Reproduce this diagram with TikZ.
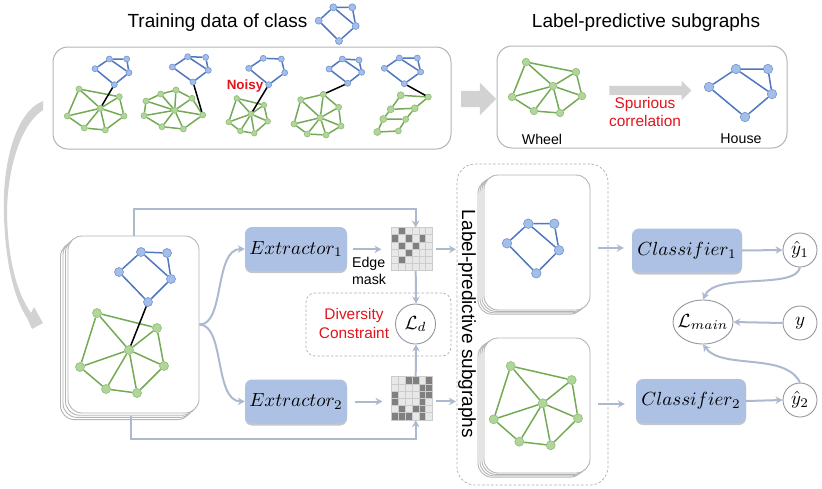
\documentclass[tikz,border=0pt]{standalone}
\usepackage{fontspec}
\setmainfont{Liberation Sans}
\usetikzlibrary{shapes.geometric, shapes.arrows, positioning, arrows.meta, shadows, calc}

\definecolor{linkblue}{HTML}{ADB9CF}
\definecolor{boxblue}{HTML}{ACC1E4}
\definecolor{graphblue}{HTML}{4F78C0}
\definecolor{dotblue}{HTML}{A4BEEA}
\definecolor{graphgreen}{HTML}{74AA55}
\definecolor{dotgreen}{HTML}{B0D69A}
\definecolor{cardgray}{HTML}{B4B4B4}
\definecolor{arrowgray}{HTML}{D2D2D2}
\definecolor{labelred}{HTML}{E2141C}

% house graph: prefix, dot size, five positions
\newcommand{\housegraph}[7]{
  \node[bluedot, minimum size=#2] (#1a) at (#3) {};
  \node[bluedot, minimum size=#2] (#1b) at (#4) {};
  \node[bluedot, minimum size=#2] (#1c) at (#5) {};
  \node[bluedot, minimum size=#2] (#1d) at (#6) {};
  \node[bluedot, minimum size=#2] (#1e) at (#7) {};
  \draw[blueedge] (#1a) -- (#1b) -- (#1c) -- (#1d) -- (#1e) -- (#1a);
}
% wheel graph: prefix, dot size, hub, rim positions, number of rim positions
\newcommand{\wheelgraph}[5]{
  \node[greendot, minimum size=#2] (#1h) at (#3) {};
  \foreach \p [count=\i] in {#4} {
    \node[greendot, minimum size=#2] (#1r\i) at \p {};
    \draw[greenedge] (#1h) -- (#1r\i);
  }
  \foreach \i [remember=\i as \j (initially #5)] in {1,...,#5} {
    \draw[greenedge] (#1r\j) -- (#1r\i);
  }
}
% stack of cards: name, centre x, centre y, width, height, shift x, shift y
\newcommand{\cardstack}[7]{
  \foreach \k in {3,2,1} {
    \node[card, minimum width=#4, minimum height=#5] (#1\k) at ({#2-\k*#6},{#3+\k*#7}) {};
  }
  \node[card, minimum width=#4, minimum height=#5] (#1) at (#2,#3) {};
}
% edge mask: name, centre x, centre y, dark cells as row/column
\newcommand{\maskgrid}[4]{
  \node[maskbox] (#1) at (#2,#3) {};
  \begin{scope}[shift={(#1.north west)}, x=6.85pt, y=-7.2pt]
    \foreach \r/\c in {#4} {
      \fill[maskdark] (\c,\r) rectangle ++(1,1);
    }
    \foreach \i in {0,...,6} {
      \draw[masklines] (\i,0) -- (\i,6);
      \draw[masklines] (0,\i) -- (6,\i);
    }
  \end{scope}
}

\begin{document}
\begin{tikzpicture}[
    x=1pt, y=-1pt,
    bluedot/.style={circle, inner sep=0pt, draw=graphblue!80, fill=dotblue, line width=0.6pt},
    greendot/.style={circle, inner sep=0pt, draw=graphgreen!80, fill=dotgreen, line width=0.6pt},
    blueedge/.style={draw=graphblue, line width=1.5pt},
    greenedge/.style={draw=graphgreen, line width=1.5pt},
    noisyedge/.style={draw=black, line width=1.5pt},
    frame/.style={rectangle, rounded corners=15pt, draw=cardgray, line width=1pt, fill=white},
    card/.style={rectangle, rounded corners=14pt, draw=cardgray, line width=0.9pt, fill=white},
    dashbox/.style={rectangle, draw=gray!65, line width=0.7pt, dash pattern=on 2.5pt off 2pt},
    modelbox/.style={rectangle, rounded corners=7pt, fill=boxblue, minimum height=44pt,
      drop shadow={shadow xshift=0pt, shadow yshift=-2pt, opacity=0.45, fill=gray}},
    mathlabel/.style={scale=1.9, inner sep=0pt},
    bubble/.style={circle, draw=gray!60!linkblue, fill=white, line width=0.9pt, inner sep=0pt},
    maskbox/.style={rectangle, minimum width=41.1pt, minimum height=43.2pt, inner sep=0pt, fill=black!9},
    maskdark/.style={fill=black!50},
    masklines/.style={draw=black!20, line width=0.6pt},
    link/.style={draw=linkblue, line width=2pt, -{Stealth[length=7pt, width=7.5pt]}},
    blockarrow/.style={single arrow, fill=arrowgray, inner sep=0pt},
    bigtext/.style={font=\fontsize{19}{22}\selectfont, inner sep=0pt},
    smalltext/.style={font=\fontsize{14.2}{17}\selectfont, inner sep=0pt},
    redtext/.style={font=\fontsize{15.4}{18.5}\selectfont, text=labelred, align=center, inner sep=0pt},
]
\useasboundingbox (0,0) rectangle (822,488);

% Titles
\node (traintitle) [bigtext] at (217.5,23) {Training data of class};
\node (subtitle) [bigtext] at (646,23) {Label-predictive subgraphs};
\housegraph{cls}{7pt}{318.7,20.7}{333.3,7.3}{352.3,7.3}{355.7,26}{339,41}
\draw[blueedge] (clsb) -- (clsd);

% Training data
\node (trainframe) [frame, minimum width=398pt, minimum height=102pt] at (252,98) {};
\housegraph{tha}{6pt}{95,68.7}{109.3,59}{126.7,59}{129,72.7}{114.3,84.7}
\draw[blueedge] (thab) -- (thad);
\wheelgraph{twa}{6pt}{100.3,108.3}{(79,89),(119.3,96.7),(124,116),(105.3,130),(84.3,128),(67.3,116)}{6}
\draw[noisyedge] (thae) -- (twah);
\housegraph{thb}{6pt}{172.3,67}{187.7,56.7}{205.7,57.3}{208.3,70.3}{193,82}
\draw[blueedge] (thbb) -- (thbd);
\wheelgraph{twb}{6pt}{174.7,110.3}{(146,101),(160.7,94),(176,90),(192,98.3),(202.7,115),(183.3,129),(162,126.7),(144,115.7)}{8}
\draw[noisyedge] (thbe) -- (twbr5);
\housegraph{thc}{6pt}{248.7,68.3}{263.3,58.3}{281.3,59}{284.7,72.7}{268.7,84.7}
\wheelgraph{twc}{5.5pt}{251,114}{(236.7,98.3),(264,105),(267.7,121.3),(254.3,133.3),(240.3,131),(228.7,122)}{6}
\draw[noisyedge] (thce) -- (twch);
\node (noisy) [inner sep=0pt, text=labelred, font=\fontsize{13.4}{15}\selectfont\bfseries] at (245,86) {Noisy};
\housegraph{thd}{6pt}{329,69}{342.3,59}{359,60}{361.7,72.3}{347.7,83.3}
\draw[blueedge] (thdb) -- (thdd);
\wheelgraph{twd}{6pt}{320.3,117.7}{(300.7,99.7),(323.3,94.3),(338.7,107.3),(341,126),(326,135),(307.3,134),(294,124)}{7}
\draw[noisyedge] (thde) -- (twdr2);
\housegraph{the}{6pt}{384.3,68.3}{399.3,58}{417.3,58}{420.7,72}{404.3,83.7}
\draw[blueedge] (theb) -- (thed);
% ladder motif
\foreach \n/\p/\s in {1/{400.7,95.3}/7pt, 2/{428.3,97}/6pt, 3/{414.7,108.3}/7pt, 4/{390.7,109.3}/7pt, 5/{405.7,119.3}/6pt, 6/{383.3,119}/7pt, 7/{398.3,131}/6pt, 8/{377.3,132}/7pt} {
  \node[greendot, minimum size=\s] (lad\n) at (\p) {};
}
\draw[greenedge] (lad1) -- (lad2) -- (lad3) -- (lad4) -- (lad1);
\draw[greenedge] (lad3) -- (lad5) -- (lad6) -- (lad4);
\draw[greenedge] (lad5) -- (lad7) -- (lad8) -- (lad6);
\draw[noisyedge] (thee) -- (lad2);

% Label-predictive subgraphs at the top
\node (subframe) [frame, minimum width=290pt, minimum height=102pt] at (642,97) {};
\wheelgraph{wheel}{7.5pt}{553,86}{(526,62),(576,72),(582,96),(560,113),(534,111),(512,97)}{6}
\housegraph{house}{9.5pt}{709,87}{736,69}{768,69}{772,94}{745,117}
\draw[blueedge] (houseb) -- (housed);
\node (wheellabel) [smalltext] at (542,139) {Wheel};
\node (houselabel) [smalltext] at (741,139) {House};
\node (spurarrow) [blockarrow, minimum height=82pt, single arrow head extend=5pt] at (648,90.5) {\rule{0pt}{9pt}};
\node (spurlabel) [redtext] at (645,112) {Spurious\\correlation};
\node (toparrow) [blockarrow, minimum height=35pt, single arrow head extend=8pt] at (474.5,99) {\rule{0pt}{16pt}};

% Input arrow
\fill[arrowgray] (43,101) .. controls (15,112) and (2,165) .. (4,215)
  .. controls (5,255) and (12,295) .. (27,318) -- (32,329) -- (43,323) -- (34,307) -- (31,313)
  .. controls (15,290) and (8,255) .. (7,215) .. controls (7,170) and (20,125) .. (43,110) -- cycle;

% Input batch
\cardstack{leftcard}{133.5}{324.5}{131pt}{177pt}{2.5}{2.2}
\housegraph{inh}{9pt}{119,272}{141,252}{167,253}{171,279}{148,302}
\draw[blueedge] (inhb) -- (inhd);
\wheelgraph{inw}{9pt}{129,350}{(97,313),(157,328),(164,366),(137,393),(106,389),(80,367)}{6}
\draw[noisyedge] (inhe) -- (inwh);

% Extractors and masks
\node (extractorone) [modelbox, minimum width=102pt] at (296,249) {};
\node (extractorlabelone) [mathlabel] at (296,249) {$Extractor_1$};
\node (extractortwo) [modelbox, minimum width=102pt] at (296,401.5) {};
\node (extractorlabeltwo) [mathlabel] at (296,401.5) {$Extractor_2$};
\maskgrid{maskone}{412.2}{249.3}{0/1,1/0,1/2,1/4,2/1,2/3,3/2,4/1}
\maskgrid{masktwo}{412.2}{398.4}{0/2,0/3,0/5,1/4,1/5,2/0,2/4,2/5,3/0,3/4,4/1,4/3,4/4,5/0,5/1,5/2,5/4}
\node (edgelabel) [smalltext, align=left] at (369,270.5) {Edge\\mask};

% Diversity constraint
\node (divbox) [dashbox, rounded corners=9pt, minimum width=145pt, minimum height=63pt] at (378.5,324.5) {};
\node (divlabel) [redtext] at (354,323.5) {Diversity\\Constraint};
\node (ldloss) [bubble, minimum size=40pt] at (415.5,324) {};
\node (ldlabel) [mathlabel] at (415.5,324) {$\mathcal{L}_d$};

% Predicted subgraphs
\node (subbox) [dashbox, rounded corners=18pt, minimum width=151pt, minimum height=321pt] at (532.5,324.5) {};
\node (rotlabel) [bigtext, rotate=-90] at (467,324) {Label-predictive subgraphs};
\cardstack{predone}{537}{242.5}{106pt}{135pt}{2}{1.4}
\housegraph{oph}{9.5pt}{507,243.3}{528.3,223.7}{554.3,223.7}{559,250.3}{536.3,273.3}
\draw[blueedge] (ophb) -- (ophd);
\cardstack{predtwo}{537}{405.5}{106pt}{135pt}{2}{1.4}
\wheelgraph{opw}{9pt}{542.7,403.3}{(510.7,366),(571.7,380),(578,418.3),(550.7,445.3),(519.3,441.7),(493.7,419.3)}{6}

% Classifiers and outputs
\node (classifierone) [modelbox, minimum width=110pt] at (687,250.5) {};
\node (classifierlabelone) [mathlabel] at (687,250.5) {$Classifier_1$};
\node (classifiertwo) [modelbox, minimum width=110pt] at (691,401) {};
\node (classifierlabeltwo) [mathlabel] at (691,401) {$Classifier_2$};
\node (yhatone) [bubble, minimum size=34pt] at (800,250) {};
\node (yhatlabelone) [mathlabel] at (800,250) {$\hat{y}_1$};
\node (truey) [bubble, minimum size=34pt] at (800,323) {};
\node (truelabel) [mathlabel] at (800,323) {$y$};
\node (yhattwo) [bubble, minimum size=34pt] at (800,400) {};
\node (yhatlabeltwo) [mathlabel] at (800,400) {$\hat{y}_2$};
\node (lmain) [ellipse, draw=gray!60!linkblue, fill=white, line width=0.9pt, minimum width=60pt, minimum height=44pt, inner sep=0pt] at (703,322) {};
\node (lmainlabel) [mathlabel] at (703,322) {$\mathcal{L}_{main}$};

% Arrows and paths
\draw[link] (leftcard.north) -- ++(0,-27) -| ([xshift=3.5pt]maskone.north);
\draw[link] ([xshift=-2.5pt, yshift=-3pt]leftcard.south) -- ++(0,23) -| ([xshift=3.5pt]masktwo.south);
\draw[link] (leftcard.east) .. controls (225,325) and (214,249) .. (extractorone.west);
\draw[link] (leftcard.east) .. controls (225,325) and (214,401) .. (extractortwo.west);
\draw[link] ([xshift=6pt, yshift=-0.3pt]extractorone.east) -- ([xshift=-10pt]maskone.west);
\draw[link] ([xshift=8pt]extractortwo.east) -- ([xshift=-9pt, yshift=-3.1pt]masktwo.west);
\draw[link] ([xshift=3pt]maskone.east) -- ++(20,0);
\draw[link] ([xshift=3pt, yshift=-3pt]masktwo.east) -- ++(20,0);
\draw[link] ([xshift=3.5pt]maskone.south) -- ([xshift=0.5pt]ldloss.north);
\draw[link] ([xshift=3.5pt]masktwo.north) -- ([xshift=0.5pt]ldloss.south);
\draw[link] ([xshift=8pt, yshift=2.5pt]predone.east |- classifierone.west) -- ([xshift=-8pt, yshift=2.5pt]classifierone.west);
\draw[link] ([xshift=8pt, yshift=-3pt]predtwo.east |- classifiertwo.west) -- ([xshift=-11pt, yshift=-3pt]classifiertwo.west);
\draw[link] (classifierone.east) -- (yhatone.west);
\draw[link] (classifiertwo.east) -- (yhattwo.west);
\draw[link] (truey.west) -- (lmain.east);
\draw[link] (yhatone.south) .. controls (795,290) and (715,272) .. (lmain.north);
\draw[link] (yhattwo.north) .. controls (785,352) and (722,370) .. (lmain.south);

\end{tikzpicture}
\end{document}
